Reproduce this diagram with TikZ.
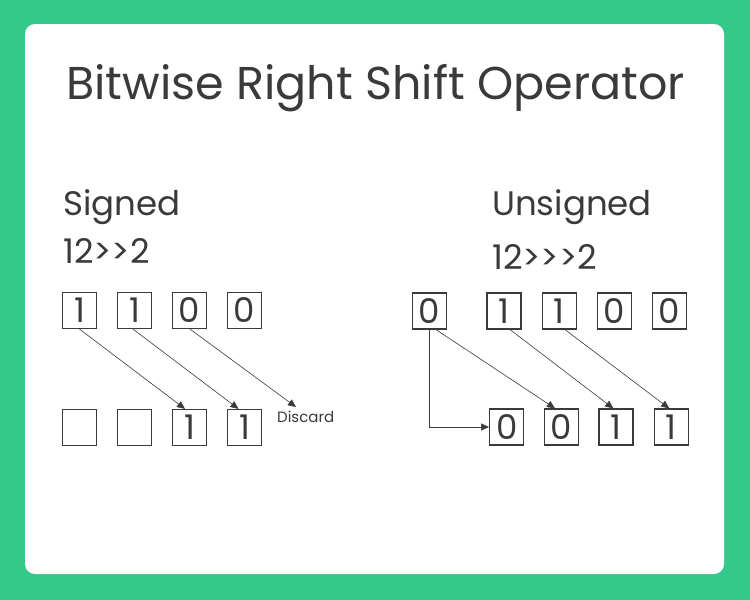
\documentclass[tikz,border=0pt]{standalone}
\usepackage{fontspec}
\setmainfont{Poppins}
\newfontfamily\poprawfont[Ligatures=NoCommon]{Poppins}
\usetikzlibrary{arrows.meta}
\definecolor{bggreen}{RGB}{52,200,137}
\definecolor{ink}{RGB}{58,58,58}
\tikzset{
  bit/.style={draw=ink, line width=1.2pt, minimum width=34pt, minimum height=36pt, inner sep=0pt, text=ink, font=\fontsize{34}{34}\selectfont},
  lbl/.style={text=ink, inner sep=0pt, anchor=base west, font=\fontsize{34}{34}\selectfont},
  exprlbl/.style={lbl, font=\poprawfont\fontsize{34}{34}\selectfont},
  conn/.style={draw=ink, line width=0.6pt, -{Triangle[length=8pt,width=7pt]}}
}
\begin{document}
\begin{tikzpicture}[x=1pt,y=-1pt]
\useasboundingbox (0,0) rectangle (750,600);
\fill[bggreen] (0,0) rectangle (750,600);
\fill[white, rounded corners=10pt] (25,24) rectangle (724,574);

\node[text=ink, inner sep=0pt, anchor=base, font=\fontsize{46}{46}\selectfont] (title) at (375.5,99.3) {Bitwise Right Shift Operator};

\node[lbl] (signed) at (63,215) {Signed};
\node[exprlbl] (sexpr) at (63,263.3) {12>{}>2};
\node[lbl] (unsigned) at (492,215) {Unsigned};
\node[exprlbl] (uexpr) at (492,269.3) {12>{}>{}>2};

% left top
\node[bit] (l1) at (79.5,310.5) {1};
\node[bit] (l2) at (134.5,310.5) {1};
\node[bit] (l3) at (189.5,310.5) {0};
\node[bit] (l4) at (244.5,310.5) {0};
% left bottom
\node[bit] (l5) at (79.5,427.5) {};
\node[bit] (l6) at (134.5,427.5) {};
\node[bit] (l7) at (189.5,427.5) {1};
\node[bit] (l8) at (244.5,427.5) {1};
\node[text=ink, inner sep=0pt, anchor=base west, font=\fontsize{15}{15}\selectfont] (disc) at (277,422.7) {Discard};
\coordinate (dtip) at (296,407);

\draw[conn] (l1.south) -- ([xshift=-4.5pt]l7.north);
\draw[conn] ([xshift=-1.5pt]l2.south) -- ([xshift=-6pt]l8.north);
\draw[conn] ([xshift=0.5pt]l3.south) -- (dtip);

% right top
\node[bit] (r1) at (429.3,311) {0};
\node[bit] (r2) at (504,311) {1};
\node[bit] (r3) at (559.3,311) {1};
\node[bit] (r4) at (614.2,311) {0};
\node[bit] (r5) at (669.5,311) {0};
% right bottom
\node[bit] (b1) at (506.7,427) {0};
\node[bit] (b2) at (561.3,427) {0};
\node[bit] (b3) at (616,427) {1};
\node[bit] (b4) at (671.2,427) {1};

\draw[conn] ([xshift=6.7pt]r1.south) -- ([xshift=-6.3pt]b2.north);
\draw[conn] (r1.south) |- (b1.west);
\draw[conn] ([xshift=6pt]r2.south) -- ([xshift=-2.7pt]b3.north);
\draw[conn] ([xshift=5.7pt]r3.south) -- ([xshift=-2pt]b4.north);
\end{tikzpicture}
\end{document}
